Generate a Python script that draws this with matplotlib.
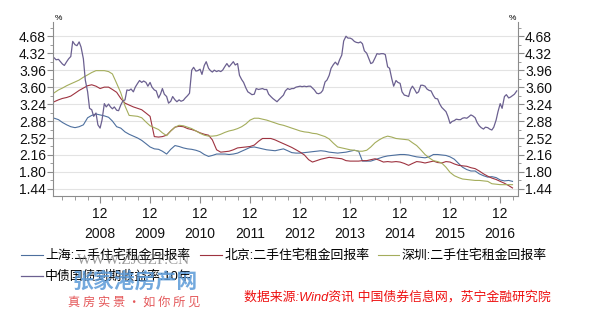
import numpy as np
import pandas as pd
import matplotlib
matplotlib.use("Agg")
import matplotlib.pyplot as plt
import matplotlib.dates as mdates
from matplotlib.ticker import FixedLocator, MultipleLocator

plt.rcParams['font.family'] = ['Liberation Sans', 'Noto Sans CJK SC', 'DejaVu Sans']

# monthly rent yields, Jan 2008 .. Mar 2017
shanghai = [2.94, 2.91, 2.85, 2.80, 2.76, 2.74, 2.76, 2.80, 2.95, 3.00, 3.03, 3.01,
            2.99, 2.96, 2.88, 2.76, 2.73, 2.65, 2.60, 2.56, 2.52, 2.47, 2.40, 2.33,
            2.29, 2.28, 2.24, 2.18, 2.28, 2.36, 2.34, 2.31, 2.29, 2.28, 2.26, 2.23,
            2.17, 2.13, 2.15, 2.18, 2.18, 2.18, 2.17, 2.18, 2.20, 2.24, 2.28, 2.32,
            2.33, 2.31, 2.29, 2.27, 2.26, 2.25, 2.27, 2.29, 2.25, 2.21, 2.20, 2.20,
            2.21, 2.22, 2.23, 2.24, 2.25, 2.24, 2.22, 2.21, 2.20, 2.21, 2.22, 2.24,
            2.26, 2.24, 2.03, 2.03, 2.03, 2.06, 2.09, 2.12, 2.14, 2.15, 2.16, 2.17,
            2.17, 2.16, 2.14, 2.12, 2.11, 2.10, 2.12, 2.17, 2.17, 2.16, 2.15, 2.12,
            2.07, 1.98, 1.90, 1.85, 1.82, 1.82, 1.76, 1.72, 1.69, 1.70, 1.68, 1.63,
            1.61, 1.62, 1.60]
beijing = [3.29, 3.33, 3.36, 3.38, 3.41, 3.47, 3.53, 3.58, 3.63, 3.65, 3.62, 3.57,
           3.60, 3.60, 3.55, 3.49, 3.36, 3.26, 3.22, 3.18, 3.15, 3.12, 3.05, 2.98,
           2.55, 2.54, 2.55, 2.58, 2.67, 2.75, 2.77, 2.76, 2.72, 2.70, 2.67, 2.63,
           2.60, 2.58, 2.48, 2.27, 2.22, 2.23, 2.24, 2.27, 2.31, 2.32, 2.33, 2.34,
           2.37, 2.45, 2.51, 2.51, 2.51, 2.48, 2.44, 2.40, 2.36, 2.32, 2.27, 2.22,
           2.16, 2.06, 2.01, 2.04, 2.07, 2.09, 2.11, 2.10, 2.09, 2.08, 2.04, 2.03,
           2.03, 2.03, 2.04, 2.04, 2.06, 2.08, 2.05, 2.01, 2.02, 2.01, 2.02, 2.01,
           1.98, 1.94, 1.98, 2.02, 2.01, 1.99, 2.01, 2.03, 2.00, 1.99, 2.02, 2.01,
           1.97, 1.94, 1.93, 1.92, 1.89, 1.87, 1.82, 1.76, 1.71, 1.67, 1.64, 1.60,
           1.56, 1.51, 1.46]
shenzhen = [3.48, 3.54, 3.58, 3.63, 3.67, 3.71, 3.75, 3.81, 3.86, 3.91, 3.95, 3.95,
            3.95, 3.93, 3.88, 3.68, 3.48, 3.20, 3.00, 2.99, 2.98, 2.95, 2.86, 2.78,
            2.74, 2.70, 2.63, 2.57, 2.67, 2.75, 2.79, 2.78, 2.75, 2.72, 2.67, 2.62,
            2.58, 2.56, 2.56, 2.57, 2.60, 2.64, 2.67, 2.69, 2.72, 2.76, 2.82, 2.90,
            2.94, 2.94, 2.92, 2.90, 2.87, 2.84, 2.81, 2.79, 2.76, 2.73, 2.70, 2.67,
            2.65, 2.64, 2.62, 2.61, 2.58, 2.55, 2.50, 2.41, 2.33, 2.31, 2.29, 2.27,
            2.26, 2.24, 2.24, 2.26, 2.33, 2.42, 2.48, 2.53, 2.56, 2.54, 2.51, 2.50,
            2.49, 2.48, 2.42, 2.36, 2.27, 2.17, 2.10, 2.04, 2.02, 1.99, 1.90, 1.79,
            1.72, 1.68, 1.65, 1.64, 1.63, 1.62, 1.62, 1.61, 1.60, 1.55, 1.54, 1.53,
            1.53, 1.53, 1.53]

# 10y government bond yield, twice a month, Jan 2008 .. Apr 2017
bond10y = [4.22, 4.18, 4.19, 4.14, 4.09, 4.06, 4.14, 4.20, 4.25, 4.57, 4.50, 4.48,
           4.56, 4.45, 4.20, 3.75, 3.50, 3.15, 3.12, 2.98, 3.05, 2.80, 2.73, 2.90,
           3.25, 3.18, 3.24, 3.18, 3.14, 3.18, 3.11, 3.10, 3.22, 3.30, 3.33, 3.54,
           3.53, 3.56, 3.50, 3.60, 3.68, 3.74, 3.70, 3.73, 3.70, 3.62, 3.70, 3.60,
           3.54, 3.52, 3.37, 3.45, 3.57, 3.45, 3.40, 3.26, 3.30, 3.40, 3.33, 3.29,
           3.33, 3.30, 3.32, 3.37, 3.42, 3.47, 3.96, 4.02, 3.94, 3.95, 3.98, 3.87,
           4.06, 4.14, 4.00, 3.95, 3.92, 3.96, 3.93, 3.95, 3.93, 3.96, 4.04, 4.10,
           4.03, 4.08, 4.14, 4.07, 4.10, 3.85, 3.76, 3.70, 3.58, 3.50, 3.47, 3.44,
           3.45, 3.57, 3.55, 3.56, 3.57, 3.55, 3.55, 3.45, 3.40, 3.36, 3.32, 3.29,
           3.34, 3.38, 3.43, 3.52, 3.57, 3.55, 3.57, 3.57, 3.60, 3.61, 3.62, 3.61,
           3.62, 3.61, 3.62, 3.62, 3.58, 3.54, 3.47, 3.46, 3.48, 3.53, 3.71, 3.75,
           3.85, 4.00, 4.08, 4.13, 4.07, 4.18, 4.28, 4.58, 4.68, 4.64, 4.64, 4.62,
           4.57, 4.55, 4.54, 4.56, 4.52, 4.37, 4.32, 4.22, 4.10, 4.12, 4.22, 4.31,
           4.30, 4.31, 4.31, 4.29, 4.03, 4.00, 3.78, 3.62, 3.74, 3.70, 3.68, 3.50,
           3.43, 3.42, 3.40, 3.55, 3.62, 3.56, 3.47, 3.50, 3.64, 3.64, 3.62, 3.56,
           3.53, 3.52, 3.42, 3.36, 3.35, 3.25, 3.17, 3.13, 3.08, 2.98, 2.83, 2.87,
           2.89, 2.92, 2.91, 2.91, 2.94, 2.95, 2.94, 2.97, 3.01, 2.99, 2.95, 2.85,
           2.78, 2.74, 2.71, 2.75, 2.74, 2.71, 2.69, 2.75, 2.90, 3.08, 3.25, 3.15,
           3.40, 3.44, 3.37, 3.39, 3.42, 3.45, 3.52]

labels = ['上海:二手住宅租金回报率', '北京:二手住宅租金回报率',
          '深圳:二手住宅租金回报率', '中债国债到期收益率:10年']
yticks = [1.44, 1.80, 2.16, 2.52, 2.88, 3.24, 3.60, 3.96, 4.32, 4.68]
years = list(range(2008, 2017))

months = pd.date_range('2008-01-01', periods=len(shanghai), freq='MS')
halfmonths = pd.date_range('2008-01-01', periods=len(bond10y), freq='SMS')

fig = plt.figure(figsize=(5.92, 3.25), dpi=100)
ax = fig.add_axes([0.0895, 0.397, 0.7855, 0.535])

l_sh, = ax.plot(months, shanghai, color='#4d6f9e', lw=0.8)
l_bj, = ax.plot(months, beijing, color='#9e3340', lw=0.8)
l_sz, = ax.plot(months, shenzhen, color='#a4ad5c', lw=0.8)
l_bd, = ax.plot(halfmonths, bond10y, color='#6b6090', lw=0.9)

ax.set_xlim(pd.Timestamp('2007-12-23'), pd.Timestamp('2017-04-10'))
ax.set_ylim(1.29, 4.98)

ax.yaxis.set_major_locator(FixedLocator(yticks))
ax.yaxis.set_minor_locator(FixedLocator([v + 0.18 for v in yticks]))
ax.set_yticklabels(['%.2f' % v for v in yticks])
ax.grid(axis='y', which='major', color='#e3e3e3', lw=0.8)
ax.set_axisbelow(True)

major_x = [pd.Timestamp('%d-12-01' % y) for y in years]
ax.xaxis.set_major_locator(FixedLocator(mdates.date2num(major_x)))
ax.set_xticklabels(['12\n%d' % y for y in years])
ax.xaxis.set_minor_locator(mdates.MonthLocator(bymonth=[3, 6, 9, 12]))

for s in ['left', 'bottom', 'right']:
    ax.spines[s].set_color('#8c8c8c')
    ax.spines[s].set_linewidth(0.8)
ax.spines['top'].set_visible(False)

ax.tick_params(axis='y', which='both', left=True, right=True,
               labelleft=True, labelright=True, direction='out',
               colors='#8c8c8c', labelcolor='#111111', labelsize=10, pad=1)
ax.tick_params(axis='y', which='major', length=4)
ax.tick_params(axis='y', which='minor', length=2)
ax.tick_params(axis='x', which='major', length=5, colors='#8c8c8c',
               labelcolor='#111111', labelsize=10, pad=3)
ax.tick_params(axis='x', which='minor', length=3, colors='#8c8c8c')
for t in ax.get_xticklabels():
    t.set_linespacing(1.55)

ax.text(0.003, 1.0, '%', transform=ax.transAxes, fontsize=6, ha='left', va='bottom')
ax.text(0.997, 1.0, '%', transform=ax.transAxes, fontsize=6, ha='right', va='bottom')

fig.legend([l_sh, l_bd, l_bj, l_sz], [labels[0], labels[3], labels[1], labels[2]],
           ncol=3, loc='upper left', bbox_to_anchor=(0.036, 0.231), frameon=False,
           fontsize=9.3, handlelength=1.65, handletextpad=0.2, columnspacing=0.65,
           labelspacing=0.65, borderaxespad=0, borderpad=0)

# watermark and source
fig.text(0.225, 0.2, 'WWW.ZJGZF.CN', fontsize=11, color='#707070', alpha=0.7,
         family=['Liberation Serif', 'DejaVu Serif'], ha='center', va='center', zorder=6)
fig.text(0.228, 0.135, '张家港房产网', fontsize=15, color='#5b9ad8', alpha=0.85,
         fontweight='bold', ha='center', va='center', family=['Noto Sans CJK SC'], zorder=6)
fig.text(0.227, 0.071, '真 房 实 景 · 如 你 所 见', fontsize=8.8, color='#e4585a',
         ha='center', va='center', family=['Noto Sans CJK SC'])
fig.text(0.413, 0.085, '数据来源:Wind资讯 中国债券信息网，苏宁金融研究院', fontsize=9.3,
         color='#ee1111', ha='left', va='center', style='italic')

fig.savefig('out.png', dpi=100)
